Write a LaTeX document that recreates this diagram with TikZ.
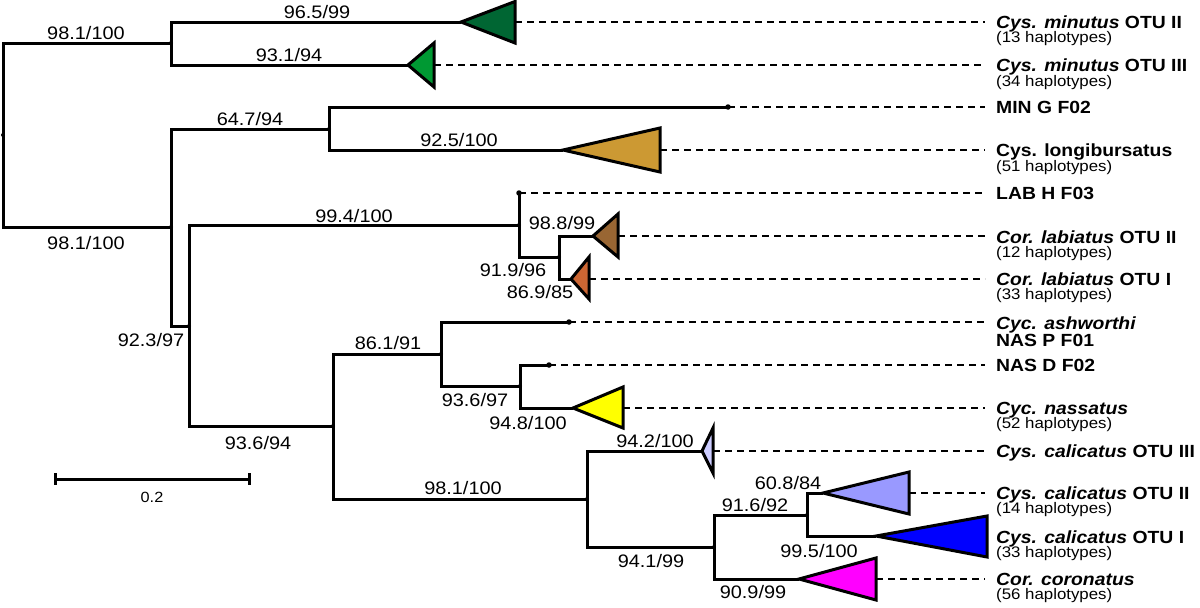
\documentclass[tikz,border=0pt]{standalone}
\usepackage{fontspec}
\setmainfont{Liberation Sans}[FakeStretch=1.1]
\definecolor{cA}{RGB}{0,102,51}
\definecolor{cB}{RGB}{0,153,51}
\definecolor{cD}{RGB}{204,153,51}
\definecolor{cF}{RGB}{153,102,51}
\definecolor{cG}{RGB}{204,102,51}
\definecolor{cJ}{RGB}{255,255,0}
\definecolor{cK}{RGB}{204,204,255}
\definecolor{cL}{RGB}{153,153,255}
\definecolor{cM}{RGB}{0,0,255}
\definecolor{cN}{RGB}{255,0,255}
\begin{document}
\begin{tikzpicture}[x=1pt,y=-1pt,
  br/.style={line width=3pt},
  tri/.style={line width=3pt, line join=miter, draw=black},
  dl/.style={line width=1.5pt, dash pattern=on 7pt off 5pt},
  bs/.style={font=\fontsize{18.1}{18}\selectfont, inner sep=0pt},
  nm/.style={font=\bfseries\fontsize{17.6}{17}\selectfont, anchor=base west, inner sep=0pt},
  hp/.style={font=\fontsize{15.3}{15}\selectfont, anchor=base west, inner sep=0pt},
  tipdot/.style={fill=black, circle, inner sep=0pt, minimum size=5.5pt},
  indot/.style={fill=black, circle, inner sep=0pt, minimum size=4pt}]
\useasboundingbox (0,0) rectangle (1200,608);
\fill[white] (0,0) rectangle (1200,608);
% internal nodes
\coordinate (root) at (3,135);
\coordinate (n1) at (171,43);
\coordinate (n2) at (171,227);
\coordinate (n3) at (329,129);
\coordinate (n4) at (189,326);
\coordinate (n5) at (519,225);
\coordinate (n6) at (559,257);
\coordinate (n7) at (333,426);
\coordinate (n8) at (441,354);
\coordinate (n9) at (520,386);
\coordinate (n10) at (587,499);
\coordinate (n11) at (714,547);
\coordinate (n12) at (807,515);
% tips / clade apices
\coordinate (tA) at (461,22);
\coordinate (tB) at (408,65);
\coordinate (tC) at (728,107);
\coordinate (tD) at (563,150);
\coordinate (tE) at (519,193);
\coordinate (tF) at (593,236);
\coordinate (tG) at (571,279);
\coordinate (tH) at (569,322);
\coordinate (tI) at (549,365);
\coordinate (tJ) at (573,408);
\coordinate (tK) at (702,451);
\coordinate (tL) at (823,493);
\coordinate (tM) at (876,536);
\coordinate (tN) at (799,579);
% dashed line ends
\foreach \n/\y in {A/22,B/65,C/107,D/150,E/193,F/236,G/279,H/322,I/365,J/408,K/451,L/493,N/579}
  \coordinate (e\n) at (985,\y);
% branches
\draw[br] (root) |- (n1);
\draw[br] (root) |- (n2);
\draw[br] (n1) |- (tA);
\draw[br] (n1) |- (tB);
\draw[br] (n2) |- (n3);
\draw[br] (n2) |- (n4);
\draw[br] (n3) |- (tC);
\draw[br] (n3) |- (tD);
\draw[br] (n4) |- (n5);
\draw[br] (n4) |- (n7);
\draw[br] (n5) |- (tE);
\draw[br] (n5) |- (n6);
\draw[br] (n6) |- (tF);
\draw[br] (n6) |- (tG);
\draw[br] (n7) |- (n8);
\draw[br] (n7) |- (n10);
\draw[br] (n8) |- (tH);
\draw[br] (n8) |- (n9);
\draw[br] (n9) |- (tI);
\draw[br] (n9) |- (tJ);
\draw[br] (n10) |- (tK);
\draw[br] (n10) |- (n11);
\draw[br] (n11) |- (n12);
\draw[br] (n11) |- (tN);
\draw[br] (n12) |- (tL);
\draw[br] (n12) |- (tM);
% dots
\foreach \p in {root,n1,n2,n3,n4,n5,n6,n7,n8,n9,n10,n11,n12}
  \node[indot] at (\p) {};
\foreach \p in {tC,tE,tH,tI}
  \node[tipdot] at (\p) {};
% collapsed clades
\draw[tri, fill=cA] (tA) -- (515,1.5) -- (515,43) -- cycle;
\draw[tri, fill=cB] (tB) -- (434,43) -- (434,87) -- cycle;
\draw[tri, fill=cD] (tD) -- (660,128) -- (660,172) -- cycle;
\draw[tri, fill=cF] (tF) -- (618,214) -- (618,257) -- cycle;
\draw[tri, fill=cG] (tG) -- (589,257) -- (589,299) -- cycle;
\draw[tri, fill=cJ] (tJ) -- (623,387) -- (623,428) -- cycle;
\draw[tri, fill=cK] (tK) -- (713,428) -- (713,473) -- cycle;
\draw[tri, fill=cL] (tL) -- (909,472) -- (909,514) -- cycle;
\draw[tri, fill=cM] (tM) -- (987,516) -- (987,557) -- cycle;
\draw[tri, fill=cN] (tN) -- (876,558) -- (876,600) -- cycle;
% dashed leaders
\draw[dl] (515,22) -- (eA);
\draw[dl] (434,65) -- (eB);
\draw[dl] (tC) -- (eC);
\draw[dl] (660,150) -- (eD);
\draw[dl] (tE) -- (eE);
\draw[dl] (618,236) -- (eF);
\draw[dl] (589,279) -- (eG);
\draw[dl] (tH) -- (eH);
\draw[dl] (tI) -- (eI);
\draw[dl] (623,408) -- (eJ);
\draw[dl] (713,451) -- (eK);
\draw[dl] (909,493) -- (eL);
\draw[dl] (876,579) -- (eN);
% support values
\node[bs] (s1) at (86,33) {98.1/100};
\node[bs] (s2) at (317,12) {96.5/99};
\node[bs] (s3) at (289,55) {93.1/94};
\node[bs] (s4) at (250,119) {64.7/94};
\node[bs] (s5) at (459,140) {92.5/100};
\node[bs] (s6) at (86,243) {98.1/100};
\node[bs] (s7) at (354,216) {99.4/100};
\node[bs] (s8) at (562,223) {98.8/99};
\node[bs] (s9) at (513,270) {91.9/96};
\node[bs] (s10) at (540,292) {86.9/85};
\node[bs] (s11) at (151,340) {92.3/97};
\node[bs] (s12) at (388,343) {86.1/91};
\node[bs] (s13) at (475,400) {93.6/97};
\node[bs] (s14) at (528,423) {94.8/100};
\node[bs] (s15) at (258,443) {93.6/94};
\node[bs] (s16) at (463,488) {98.1/100};
\node[bs] (s17) at (655,441) {94.2/100};
\node[bs] (s18) at (651,561) {94.1/99};
\node[bs] (s19) at (788,483) {60.8/84};
\node[bs] (s20) at (755,505) {91.6/92};
\node[bs] (s21) at (819,551) {99.5/100};
\node[bs] (s22) at (753,592) {90.9/99};
% scale bar
\coordinate (sbL) at (55,479);
\coordinate (sbR) at (249,479);
\draw[br] (sbL) -- (sbR);
\draw[br] ([yshift=6pt]sbL) -- ([yshift=-6pt]sbL);
\draw[br] ([yshift=6pt]sbR) -- ([yshift=-6pt]sbR);
\node[font=\fontsize{14.8}{14}\selectfont, inner sep=0pt] (sbt) at (152,497) {0.2};
% taxon labels
\node[nm] (LA) at (996,28) {\textit{Cys. minutus} OTU II};
\node[hp] (hA) at (996,42.5) {(13 haplotypes)};
\node[nm] (LB) at (996,71.5) {\textit{Cys. minutus} OTU III};
\node[hp] (hB) at (996,86) {(34 haplotypes)};
\node[nm] (LC) at (996,113) {MIN G F02};
\node[nm] (LD) at (996,156) {Cys. longibursatus};
\node[hp] (hD) at (996,171) {(51 haplotypes)};
\node[nm] (LE) at (996,199) {LAB H F03};
\node[nm] (LF) at (996,243) {\textit{Cor. labiatus} OTU II};
\node[hp] (hF) at (996,257.5) {(12 haplotypes)};
\node[nm] (LG) at (996,285) {\textit{Cor. labiatus} OTU I};
\node[hp] (hG) at (996,299.5) {(33 haplotypes)};
\node[nm] (LH) at (996,329) {\textit{Cyc. ashworthi}};
\node[nm] (LH2) at (996,346) {NAS P F01};
\node[nm] (LI) at (996,371) {NAS D F02};
\node[nm] (LJ) at (996,414) {\textit{Cyc. nassatus}};
\node[hp] (hJ) at (996,428.5) {(52 haplotypes)};
\node[nm] (LK) at (996,457) {\textit{Cys. calicatus} OTU III};
\node[nm] (LL) at (996,499) {\textit{Cys. calicatus} OTU II};
\node[hp] (hL) at (996,513.5) {(14 haplotypes)};
\node[nm] (LM) at (996,543) {\textit{Cys. calicatus} OTU I};
\node[hp] (hM) at (996,557.5) {(33 haplotypes)};
\node[nm] (LN) at (996,585) {\textit{Cor. coronatus}};
\node[hp] (hN) at (996,599.5) {(56 haplotypes)};
\end{tikzpicture}
\end{document}
